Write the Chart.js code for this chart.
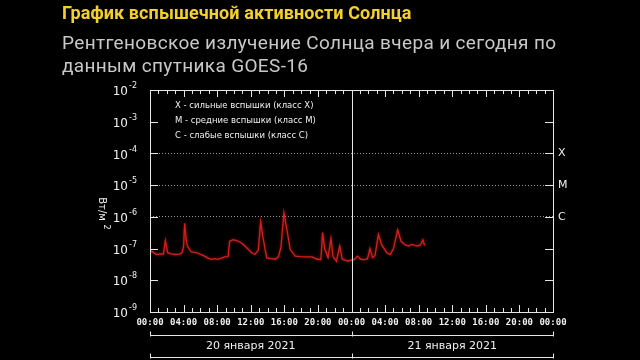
<!DOCTYPE html>
<html>
<head>
<meta charset="utf-8">
<script src="https://cdn.jsdelivr.net/npm/chart.js@4.4.0/dist/chart.umd.min.js"></script>
<style>
  html, body { margin: 0; padding: 0; background: #000; }
  #wrap { position: relative; width: 640px; height: 360px; overflow: hidden; background: #000; }
  #flux-chart { position: absolute; left: 0; top: 0; }
  .title { position: absolute; left: 62px; top: 1px; font: bold 18px/24px Roboto, sans-serif; letter-spacing: 0.1px; color: #f3d02c; white-space: nowrap; }
  .subtitle { position: absolute; left: 62px; top: 31px; font: 19px/23px Roboto, sans-serif; letter-spacing: 0.35px; color: #c8c8c8; white-space: nowrap; }
</style>
</head>
<body>
<div id="wrap">
  <canvas id="flux-chart" width="640" height="360"></canvas>
  <div class="title">График вспышечной активности Солнца</div>
  <div class="subtitle">Рентгеновское излучение Солнца вчера и сегодня по<br>данным спутника GOES-16</div>
</div>
<script>
// hours since 00:00 of 20 January
const hours = [
    0.0, 0.2, 0.5, 0.8, 1.3, 1.6, 1.83, 2.1, 2.5, 3.0, 3.5, 3.8, 4.0, 4.13, 4.3, 4.45,
    4.9, 5.3, 5.7, 6.1, 6.5, 6.9, 7.3, 7.7, 8.1, 8.5, 8.9, 9.3, 9.49, 9.9, 10.2, 10.5,
    10.9, 11.3, 11.7, 12.1, 12.5, 12.9, 13.18, 13.5, 13.9, 14.4, 14.9, 15.3, 15.6, 15.95,
    16.3, 16.7, 17.3, 17.9, 18.5, 19.3, 19.9, 20.35, 20.56, 20.8, 21.2, 21.55, 21.8, 22.2,
    22.6, 22.9, 23.6, 24.0, 24.3, 24.7, 25.1, 25.5, 25.9, 26.2, 26.5, 26.8, 27.2, 27.6,
    28.2, 28.6, 29.0, 29.5, 29.9, 30.4, 30.8, 31.2, 31.8, 32.2, 32.5, 32.7
];
// X-ray flux, W/m2
const flux = [
    7.4e-8, 8.3e-8, 7.2e-8, 6.5e-8, 6.8e-8, 6.6e-8, 1.8e-7, 7.4e-8, 6.8e-8, 6.5e-8, 6.7e-8, 7.2e-8, 1.2e-7, 6.3e-7, 2.0e-7, 1.2e-7,
    7.8e-8, 7.6e-8, 7.2e-8, 6.4e-8, 5.8e-8, 5.0e-8, 4.6e-8, 4.8e-8, 4.6e-8, 5.0e-8, 5.5e-8, 5.6e-8, 1.7e-7, 1.9e-7, 1.8e-7, 1.7e-7,
    1.5e-7, 1.2e-7, 9.5e-8, 7.4e-8, 6.5e-8, 9.0e-8, 7.1e-7, 1.9e-7, 5.1e-8, 4.8e-8, 4.6e-8, 5.5e-8, 1.1e-7, 1.35e-6,
    4.0e-7, 9.3e-8, 5.8e-8, 5.6e-8, 5.5e-8, 5.5e-8, 4.6e-8, 4.5e-8, 3.2e-7, 1.0e-7, 5.2e-8, 2.1e-7, 5.6e-8, 4.0e-8,
    1.2e-7, 4.6e-8, 4.0e-8, 4.4e-8, 4.4e-8, 5.8e-8, 4.6e-8, 4.5e-8, 4.7e-8, 1.0e-7, 5.2e-8, 6.0e-8, 2.8e-7, 1.3e-7,
    7.4e-8, 6.5e-8, 1.0e-7, 3.9e-7, 1.7e-7, 1.3e-7, 1.2e-7, 1.35e-7, 1.2e-7, 1.3e-7, 1.9e-7, 1.25e-7
];

const yExponents = [-2, -3, -4, -5, -6, -7, -8, -9];
const flareClasses = ['X', 'M', 'C'];
const classLevels = [1e-4, 1e-5, 1e-6];
const legendLines = [
    'X - сильные вспышки (класс X)',
    'M - средние вспышки (класс M)',
    'C - слабые вспышки (класс C)'
];
const dayLabels = ['20 января 2021', '21 января 2021'];
const dayStarts = [0, 24, 48];

function isClassLevel(v) {
    return classLevels.some(c => Math.abs(Math.log10(v) - Math.log10(c)) < 1e-6);
}

const glow = {
    id: 'glow',
    beforeDatasetsDraw(chart) {
        chart.ctx.save();
        chart.ctx.shadowColor = 'rgba(220, 30, 20, 0.7)';
        chart.ctx.shadowBlur = 3;
    },
    afterDatasetsDraw(chart) {
        chart.ctx.restore();
    }
};

const decorations = {
    id: 'decorations',
    afterDraw(chart) {
        const ctx = chart.ctx;
        const area = chart.chartArea;
        const xs = chart.scales.x;
        const ys = chart.scales.y;
        ctx.save();
        ctx.strokeStyle = '#e6e6e6';
        ctx.fillStyle = '#f0f0f0';
        ctx.lineWidth = 1;

        // frame and midnight line
        ctx.strokeRect(Math.round(area.left) + 0.5, Math.round(area.top) + 0.5,
            Math.round(area.right - area.left), Math.round(area.bottom - area.top));
        const mid = Math.round(xs.getPixelForValue(24)) + 0.5;
        ctx.beginPath();
        ctx.moveTo(mid, area.top);
        ctx.lineTo(mid, area.bottom);
        ctx.stroke();

        // hour ticks, top and bottom, pointing inward
        ctx.beginPath();
        for (let h = 1; h < 48; h++) {
            const x = Math.round(xs.getPixelForValue(h)) + 0.5;
            const len = h % 4 === 0 ? 7 : 4;
            ctx.moveTo(x, area.bottom);
            ctx.lineTo(x, area.bottom - len);
            ctx.moveTo(x, area.top);
            ctx.lineTo(x, area.top + len);
        }
        // decade ticks, left and right
        yExponents.forEach(e => {
            const y = Math.round(ys.getPixelForValue(Math.pow(10, e))) + 0.5;
            ctx.moveTo(area.left, y);
            ctx.lineTo(area.left + 8, y);
            ctx.moveTo(area.right, y);
            ctx.lineTo(area.right - 8, y);
        });
        ctx.stroke();

        // y labels 10^n
        yExponents.forEach(e => {
            const y = ys.getPixelForValue(Math.pow(10, e));
            ctx.font = '12px "DejaVu Sans"';
            ctx.textAlign = 'right';
            ctx.textBaseline = 'middle';
            ctx.fillText('10', area.left - 22, y + 2);
            ctx.font = '8px "DejaVu Sans"';
            ctx.textAlign = 'left';
            ctx.fillText(String(e), area.left - 21, y - 4);
        });

        // flare class labels on the right
        ctx.font = '11px "DejaVu Sans"';
        ctx.textAlign = 'left';
        ctx.textBaseline = 'middle';
        flareClasses.forEach((c, i) => {
            ctx.fillText(c, area.right + 5, ys.getPixelForValue(classLevels[i]));
        });

        // legend text inside the plot
        ctx.font = '8.5px "DejaVu Sans"';
        legendLines.forEach((t, i) => {
            ctx.fillText(t, area.left + 25, area.top + 16 + i * 15);
        });

        // y axis title, reading downward
        ctx.save();
        ctx.translate(area.left - 48, 212);
        ctx.rotate(Math.PI / 2);
        ctx.font = '10px "DejaVu Sans"';
        ctx.textAlign = 'center';
        ctx.fillText('Вт/м', -3, 0);
        ctx.font = '8px "DejaVu Sans"';
        ctx.fillText('2', 15, -4);
        ctx.restore();

        // date brackets under the axis
        const lineY = [335.5, 357.5];
        ctx.beginPath();
        lineY.forEach(ly => {
            ctx.moveTo(area.left, ly);
            ctx.lineTo(area.right, ly);
            dayStarts.forEach(h => {
                const x = Math.round(xs.getPixelForValue(h)) + 0.5;
                ctx.moveTo(x, ly - 4);
                ctx.lineTo(x, ly + 1);
            });
        });
        ctx.stroke();
        ctx.font = '11px "DejaVu Sans"';
        ctx.textAlign = 'center';
        dayLabels.forEach((t, i) => {
            const x = (xs.getPixelForValue(dayStarts[i]) + xs.getPixelForValue(dayStarts[i + 1])) / 2;
            ctx.fillText(t, x, 346.5);
        });
        ctx.restore();
    }
};

new Chart(document.getElementById('flux-chart').getContext('2d'), {
    type: 'line',
    data: {
        datasets: [{
            data: hours.map((h, i) => ({ x: h, y: flux[i] })),
            borderColor: '#d0221c',
            borderWidth: 1.3,
            pointRadius: 0,
            tension: 0
        }]
    },
    options: {
        responsive: false,
        animation: false,
        layout: {
            padding: { left: 150, right: 87, top: 90, bottom: 26 }
        },
        scales: {
            x: {
                type: 'linear',
                min: 0,
                max: 48,
                border: { display: false },
                grid: { display: false, drawTicks: false },
                afterFit: s => { s.height = 22; },
                ticks: {
                    stepSize: 4,
                    autoSkip: false,
                    maxRotation: 0,
                    padding: 5,
                    color: '#f0f0f0',
                    font: { family: '"DejaVu Sans Mono"', size: 9, weight: 'bold' },
                    callback: v => String(v % 24).padStart(2, '0') + ':00'
                }
            },
            y: {
                type: 'logarithmic',
                min: 1e-9,
                max: 1e-2,
                afterBuildTicks: s => {
                    s.ticks = yExponents.map(e => ({ value: Math.pow(10, e) }));
                },
                afterFit: s => { s.width = 0; },
                grid: {
                    drawTicks: false,
                    color: c => (c.tick && isClassLevel(c.tick.value)) ? '#9a9a9a' : 'rgba(0,0,0,0)'
                },
                border: { display: false, dash: [1, 2] },
                ticks: { display: false }
            }
        },
        plugins: {
            legend: { display: false },
            tooltip: { enabled: false }
        }
    },
    plugins: [glow, decorations]
});
</script>
</body>
</html>
